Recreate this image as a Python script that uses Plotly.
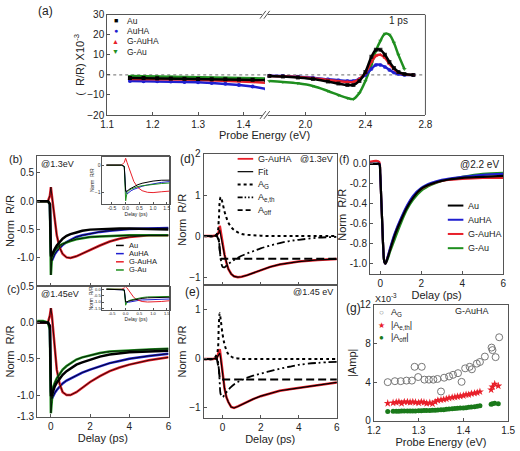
import plotly.graph_objects as go

W, H = 520, 451
FONT = "Liberation Sans, Arial, sans-serif"

# ---------------- (a) spectra at 1 ps ----------------
e_nir = [1.15, 1.18, 1.21, 1.24, 1.27, 1.30, 1.33, 1.36, 1.39, 1.42, 1.45]
a_au_nir = [-1.5, -1.6, -1.7, -1.8, -1.9, -2.0, -2.1, -2.2, -2.3, -2.4, -2.6]
a_auha_nir = [-3.0, -3.1, -3.2, -3.3, -3.5, -3.7, -4.0, -4.4, -5.0, -5.8, -7.0]
a_gauha_nir = [-2.0, -2.0, -2.1, -2.2, -2.3, -2.4, -2.6, -2.8, -3.1, -3.5, -4.0]
a_gau_nir = [-0.5, -0.6, -0.8, -0.9, -1.0, -1.2, -1.3, -1.4, -1.5, -1.6, -1.8]

e_vis = [1.76, 1.85, 1.95, 2.05, 2.15, 2.22, 2.28, 2.32, 2.36, 2.40, 2.44, 2.47, 2.50,
         2.53, 2.56, 2.59, 2.62, 2.66, 2.72]
a_au_vis = [-0.5, -0.8, -1.3, -2.0, -3.3, -4.3, -5.0, -5.0, -3.0, 1.5, 9.0, 12.5, 12.5,
            10.0, 6.5, 3.5, 1.5, 0.5, 0.0]
a_auha_vis = [-0.4, -0.6, -0.9, -1.4, -2.2, -2.7, -3.0, -3.0, -2.0, 0.0, 3.0, 5.0, 5.0,
              4.0, 2.5, 1.2, 0.4, 0.0, 0.0]
a_gauha_vis = [-0.5, -0.7, -1.1, -1.6, -2.5, -3.1, -3.5, -3.5, -2.0, 1.0, 6.5, 9.5, 10.0,
               8.5, 5.5, 3.0, 1.2, 0.3, 0.0]
e_vis_gau = [1.76, 1.85, 1.95, 2.05, 2.15, 2.22, 2.28, 2.32, 2.36, 2.40, 2.44, 2.47, 2.50,
             2.53, 2.56, 2.59, 2.62, 2.66]
a_gau_vis = [-3.0, -3.5, -4.2, -5.5, -8.0, -10.0, -11.5, -12.0, -9.0, -3.0, 5.0, 12.0, 17.0,
             20.5, 20.0, 16.0, 10.0, 3.0]

# ---------------- (b) / (c) kinetics ----------------
t_bc = [-0.7, -0.4, -0.15, -0.05, 0.0, 0.05, 0.1, 0.2, 0.3, 0.45, 0.6, 0.8, 1.0, 1.3, 1.6,
        2.0, 2.5, 3.0, 3.5, 4.0, 5.0, 6.0]
b_au = [0.0, 0.0, 0.0, -0.05, -0.95, -0.95, -0.9, -0.84, -0.78, -0.71, -0.66, -0.61, -0.58,
        -0.55, -0.52, -0.5, -0.49, -0.48, -0.48, -0.48, -0.49, -0.5]
b_auha = [0.0, 0.0, 0.0, -0.05, -0.9, -1.05, -1.0, -0.93, -0.88, -0.82, -0.77, -0.72, -0.68,
          -0.63, -0.6, -0.57, -0.54, -0.52, -0.5, -0.49, -0.48, -0.47]
b_gauha = [0.0, 0.0, 0.0, 0.1, 0.25, 0.1, -0.05, -0.35, -0.6, -0.82, -0.93, -0.99, -1.0,
           -0.97, -0.92, -0.86, -0.78, -0.71, -0.66, -0.63, -0.6, -0.6]
b_gau = [0.0, 0.0, 0.0, -0.05, -1.3, -1.0, -0.93, -0.87, -0.83, -0.78, -0.75, -0.72, -0.7,
         -0.67, -0.65, -0.63, -0.62, -0.61, -0.6, -0.6, -0.6, -0.6]

c_au = [0.0, 0.0, 0.0, -0.05, -1.0, -1.0, -0.95, -0.88, -0.83, -0.77, -0.72, -0.67, -0.63,
        -0.58, -0.55, -0.51, -0.47, -0.44, -0.42, -0.41, -0.4, -0.39]
c_auha = [0.0, 0.0, 0.0, -0.05, -0.95, -1.05, -1.02, -0.97, -0.93, -0.88, -0.84, -0.8, -0.77,
          -0.73, -0.69, -0.65, -0.6, -0.56, -0.53, -0.5, -0.46, -0.43]
c_gauha = [0.0, 0.0, 0.0, 0.1, 0.2, 0.1, -0.05, -0.4, -0.65, -0.85, -0.96, -1.0, -1.0,
           -0.96, -0.9, -0.82, -0.74, -0.67, -0.62, -0.58, -0.52, -0.48]
c_gau = [0.02, 0.02, 0.0, -0.1, -1.25, -1.0, -0.9, -0.83, -0.77, -0.71, -0.65, -0.6, -0.56,
         -0.51, -0.48, -0.45, -0.42, -0.4, -0.39, -0.38, -0.37, -0.36]

# ---------------- (d) / (e) fit components, G-AuHA ----------------
t_de = [-1.0, -0.5, -0.3, -0.2, -0.15, -0.1, 0.0, 0.1, 0.2, 0.3, 0.45, 0.6, 0.8, 1.0, 1.3,
        1.6, 2.0, 2.5, 3.0, 3.5, 4.0, 5.0, 6.0]
d_data = [0.0, 0.0, 0.02, 0.1, 0.25, 0.1, -0.2, -0.45, -0.65, -0.8, -0.92, -0.98, -1.0,
          -0.99, -0.95, -0.9, -0.83, -0.75, -0.69, -0.65, -0.62, -0.58, -0.56]
d_fit = [0.0, 0.0, 0.02, 0.08, 0.15, 0.05, -0.22, -0.46, -0.65, -0.8, -0.92, -0.98, -1.0,
         -0.99, -0.95, -0.9, -0.83, -0.75, -0.69, -0.65, -0.62, -0.58, -0.56]
d_ag = [0.0, 0.0, 0.05, 0.4, 0.85, 0.95, 0.8, 0.6, 0.45, 0.33, 0.22, 0.15, 0.09, 0.05, 0.03,
        0.02, 0.01, 0.0, 0.0, 0.0, 0.0, 0.0, 0.0]
d_aeth = [0.0, 0.0, 0.0, -0.1, -0.35, -0.55, -0.75, -0.76, -0.72, -0.68, -0.63, -0.58, -0.53,
          -0.48, -0.42, -0.37, -0.3, -0.23, -0.17, -0.12, -0.09, -0.04, -0.02]
d_aoff = [0.0, 0.0, 0.0, -0.1, -0.45, -0.55, -0.55, -0.55, -0.55, -0.55, -0.55, -0.55, -0.55,
          -0.55, -0.55, -0.55, -0.55, -0.55, -0.55, -0.55, -0.55, -0.55, -0.55]

e_data = [0.0, 0.0, 0.02, 0.15, 0.2, 0.05, -0.35, -0.6, -0.78, -0.88, -0.98, -1.0, -0.97,
          -0.93, -0.87, -0.82, -0.76, -0.7, -0.65, -0.62, -0.59, -0.53, -0.48]
e_fit = [0.0, 0.0, 0.02, 0.1, 0.12, 0.0, -0.36, -0.6, -0.78, -0.88, -0.98, -1.0, -0.97,
         -0.93, -0.87, -0.82, -0.76, -0.7, -0.65, -0.62, -0.59, -0.53, -0.48]
e_ag = [0.0, 0.0, 0.1, 0.7, 0.93, 0.8, 0.5, 0.3, 0.18, 0.1, 0.05, 0.02, 0.01, 0.0, 0.0, 0.0,
        0.0, 0.0, 0.0, 0.0, 0.0, 0.0, 0.0]
e_aeth = [0.0, 0.0, 0.0, -0.2, -0.5, -0.72, -0.78, -0.73, -0.68, -0.63, -0.57, -0.52, -0.47,
          -0.43, -0.38, -0.34, -0.3, -0.25, -0.2, -0.16, -0.12, -0.08, -0.06]
e_aoff = [0.0, 0.0, 0.0, -0.2, -0.4, -0.42, -0.42, -0.42, -0.42, -0.42, -0.42, -0.42, -0.42,
          -0.42, -0.42, -0.42, -0.42, -0.42, -0.42, -0.42, -0.42, -0.42, -0.42]

# ---------------- (f) kinetics @2.2 eV ----------------
t_f = [-0.5, -0.2, -0.05, 0.0, 0.05, 0.1, 0.15, 0.2, 0.25, 0.35, 0.5, 0.7, 1.0, 1.3, 1.6,
       2.0, 2.5, 3.0, 4.0, 5.0, 6.0]
f_au = [0.0, 0.0, 0.0, -0.1, -0.35, -0.6, -0.85, -0.98, -1.0, -0.95, -0.85, -0.72, -0.57,
        -0.44, -0.34, -0.25, -0.2, -0.17, -0.14, -0.13, -0.12]
f_auha = [0.0, 0.0, 0.0, -0.1, -0.35, -0.6, -0.85, -0.98, -1.0, -0.94, -0.83, -0.7, -0.55,
          -0.42, -0.32, -0.24, -0.19, -0.16, -0.13, -0.11, -0.1]
f_gauha = [0.02, 0.03, 0.02, -0.1, -0.35, -0.6, -0.85, -0.98, -1.0, -0.94, -0.84, -0.71,
           -0.56, -0.43, -0.33, -0.25, -0.2, -0.17, -0.15, -0.14, -0.14]
f_gau = [0.0, 0.0, 0.0, -0.1, -0.35, -0.6, -0.85, -0.98, -1.0, -0.96, -0.87, -0.76, -0.6,
         -0.46, -0.36, -0.27, -0.21, -0.17, -0.13, -0.1, -0.09]

# ---------------- (g) amplitudes vs probe energy ----------------
g_e_ag = [1.231, 1.247, 1.260, 1.273, 1.285, 1.291, 1.299, 1.307, 1.313, 1.323, 1.333, 1.342,
          1.350, 1.357, 1.368, 1.377, 1.388, 1.396, 1.404, 1.414, 1.419, 1.430, 1.437, 1.448,
          1.463, 1.465, 1.472, 1.480]
g_ag = [3.99, 4.09, 4.09, 4.15, 4.15, 5.58, 4.52, 5.58, 4.25, 4.25, 4.25, 4.32, 3.02, 4.45,
        4.58, 4.75, 4.92, 4.02, 5.42, 5.58, 5.32, 5.91, 6.08, 6.64, 7.57, 7.31, 6.58, 8.64]
g_e_amp = [1.231, 1.243, 1.250, 1.256, 1.262, 1.268, 1.275, 1.281, 1.287, 1.293, 1.300,
           1.306, 1.312, 1.318, 1.325, 1.331, 1.337, 1.343, 1.350, 1.356, 1.362, 1.368,
           1.375, 1.381, 1.387, 1.393, 1.400, 1.406, 1.412, 1.418, 1.425, 1.431, 1.437,
           1.462, 1.465, 1.470, 1.478]
g_aeth = [1.8, 1.85, 1.9, 1.95, 1.8, 1.95, 1.95, 1.9, 1.95, 1.9, 1.85, 1.95, 1.9, 1.8, 1.85,
          1.75, 1.95, 2.1, 2.15, 2.2, 2.25, 2.35, 2.4, 2.45, 2.5, 2.55, 2.6, 2.7, 2.7, 2.8,
          2.85, 2.9, 3.0, 3.2, 3.5, 3.8, 3.6]
g_aoff = [0.95, 0.97, 0.98, 0.98, 0.99, 1.0, 1.0, 1.0, 1.0, 1.01, 1.02, 1.03, 1.04, 1.05,
          1.06, 1.07, 1.08, 1.1, 1.12, 1.14, 1.17, 1.2, 1.23, 1.26, 1.28, 1.3, 1.32, 1.35,
          1.38, 1.42, 1.45, 1.5, 1.55, 1.7, 1.75, 1.8, 1.75]

samples = ["Au", "AuHA", "G-AuHA", "G-Au"]
colors = {"Au": "#000000", "AuHA": "#1f1fd0", "G-AuHA": "#e8202a", "G-Au": "#1f8f1f"}
GRAY = "#777777"
STAR = "#e8202a"
DKGREEN = "#1a7a1a"


def px_x(p):
    return p / W


def px_y(p):
    return 1 - p / H


fig = go.Figure()

# (a) spectra, two halves of the broken axis
nir = {"Au": a_au_nir, "AuHA": a_auha_nir, "G-AuHA": a_gauha_nir, "G-Au": a_gau_nir}
vis = {"Au": (e_vis, a_au_vis), "AuHA": (e_vis, a_auha_vis),
       "G-AuHA": (e_vis, a_gauha_vis), "G-Au": (e_vis_gau, a_gau_vis)}
symbols = {"Au": "square", "AuHA": "circle", "G-AuHA": "triangle-up", "G-Au": "triangle-down"}
for s in ["G-Au", "AuHA", "G-AuHA", "Au"]:
    fig.add_trace(go.Scatter(x=e_nir, y=nir[s], xaxis="x", yaxis="y", mode="lines+markers",
                             line=dict(color=colors[s], width=2.5),
                             marker=dict(symbol=symbols[s], size=4, color=colors[s]),
                             showlegend=False))
    fig.add_trace(go.Scatter(x=vis[s][0], y=vis[s][1], xaxis="x2", yaxis="y",
                             mode="lines+markers", line=dict(color=colors[s], width=2.5),
                             marker=dict(symbol=symbols[s], size=4, color=colors[s],
                                         opacity=0.8),
                             line_shape="spline", showlegend=False))

# (b) and (c) with insets
panel_bc = [
    ({"Au": b_au, "AuHA": b_auha, "G-AuHA": b_gauha, "G-Au": b_gau}, "x3", "y3", "x4", "y4"),
    ({"Au": c_au, "AuHA": c_auha, "G-AuHA": c_gauha, "G-Au": c_gau}, "x5", "y5", "x6", "y6"),
]
for data, xa, ya, xi, yi in panel_bc:
    for s in ["AuHA", "G-AuHA", "G-Au", "Au"]:
        fig.add_trace(go.Scatter(x=t_bc, y=data[s], xaxis=xa, yaxis=ya, mode="lines",
                                 line=dict(color=colors[s], width=2.5), showlegend=False))
        fig.add_trace(go.Scatter(x=t_bc, y=data[s], xaxis=xi, yaxis=yi, mode="lines",
                                 line=dict(color=colors[s], width=1), showlegend=False))
    for s in ["AuHA", "G-AuHA", "G-Au"]:
        fig.add_trace(go.Scatter(x=t_bc, y=data[s], xaxis=xa, yaxis=ya, mode="lines",
                                 line=dict(color="#000000", width=0.8), showlegend=False))

# (d) and (e) components
DASH_AG = "dot"
DASH_AETH = "8px,3px,2px,3px,2px,3px"
DASH_AOFF = "8px,4px"
for dat, fit, ag, aeth, aoff, xa, ya in [
        (d_data, d_fit, d_ag, d_aeth, d_aoff, "x7", "y7"),
        (e_data, e_fit, e_ag, e_aeth, e_aoff, "x8", "y8")]:
    fig.add_trace(go.Scatter(x=t_de, y=dat, xaxis=xa, yaxis=ya, mode="lines",
                             line=dict(color=colors["G-AuHA"], width=2.5), showlegend=False))
    fig.add_trace(go.Scatter(x=t_de, y=fit, xaxis=xa, yaxis=ya, mode="lines",
                             line=dict(color="#000000", width=1.2), showlegend=False))
    fig.add_trace(go.Scatter(x=t_de, y=ag, xaxis=xa, yaxis=ya, mode="lines", line_shape="spline",
                             line=dict(color="#000000", width=2, dash=DASH_AG), showlegend=False))
    fig.add_trace(go.Scatter(x=t_de, y=aeth, xaxis=xa, yaxis=ya, mode="lines", line_shape="spline",
                             line=dict(color="#000000", width=1.8, dash=DASH_AETH),
                             showlegend=False))
    fig.add_trace(go.Scatter(x=t_de, y=aoff, xaxis=xa, yaxis=ya, mode="lines",
                             line=dict(color="#000000", width=2, dash=DASH_AOFF),
                             showlegend=False))

# (f)
fdat = {"Au": f_au, "AuHA": f_auha, "G-AuHA": f_gauha, "G-Au": f_gau}
for s in ["G-Au", "G-AuHA", "AuHA", "Au"]:
    fig.add_trace(go.Scatter(x=t_f, y=fdat[s], xaxis="x9", yaxis="y9", mode="lines",
                             line_shape="spline", line=dict(color=colors[s], width=2.2),
                             showlegend=False))

# (g)
fig.add_trace(go.Scatter(x=g_e_ag, y=g_ag, xaxis="x10", yaxis="y10", mode="markers",
                         marker=dict(symbol="circle-open", size=7, color=GRAY,
                                     line=dict(width=1)), showlegend=False))
fig.add_trace(go.Scatter(x=g_e_amp, y=g_aeth, xaxis="x10", yaxis="y10", mode="markers",
                         marker=dict(symbol="star", size=6, color=STAR), showlegend=False))
fig.add_trace(go.Scatter(x=g_e_amp, y=g_aoff, xaxis="x10", yaxis="y10", mode="markers",
                         marker=dict(symbol="circle", size=5, color=DKGREEN), showlegend=False))

axis_common = dict(showline=True, linecolor="#555555", linewidth=1, ticks="inside",
                   ticklen=3, tickcolor="#555555", showgrid=False, zeroline=False,
                   tickfont=dict(size=10, color="#222222"), mirror=True)
tfont = dict(size=11, color="#222222")
norm_title = dict(text="Norm  R/R", font=tfont, standoff=0)
delay_title = dict(text="Delay (ps)", font=tfont, standoff=0)


def ax(**kw):
    d = dict(axis_common)
    d.update(kw)
    return d


inset_common = dict(showline=True, linecolor="#555555", linewidth=0.8, ticks="inside",
                    ticklen=2, tickcolor="#555555", showgrid=False, zeroline=False,
                    tickfont=dict(size=5, color="#333333"), mirror=True)


def iax(**kw):
    d = dict(inset_common)
    d.update(kw)
    return d


fig.update_layout(
    width=W, height=H, margin=dict(l=0, r=0, t=0, b=0),
    paper_bgcolor="white", plot_bgcolor="rgba(0,0,0,0)",
    font=dict(family=FONT, color="#222222"),
    # (a)
    xaxis=ax(domain=[px_x(103), px_x(265)], range=[1.1, 1.447], anchor="y",
             tickvals=[1.1, 1.2, 1.3, 1.4], ticktext=["1.1", "1.2", "1.3", "1.4"]),
    xaxis2=ax(domain=[px_x(265), px_x(430)], range=[1.73, 2.8], anchor="y",
              tickvals=[2.0, 2.4, 2.8], ticktext=["2.0", "2.4", "2.8"]),
    yaxis=ax(domain=[px_y(112), px_y(9)], range=[-20, 30], anchor="x", mirror=False,
             tickvals=[-20, -10, 0, 10, 20, 30],
             title=dict(text="(  R/R) X10<sup>-3</sup>", font=tfont, standoff=0)),
    # (b)
    xaxis3=ax(domain=[px_x(31), px_x(166)], range=[-0.7, 6], anchor="y3",
              tickvals=[0, 2, 4, 6], showticklabels=False),
    yaxis3=ax(domain=[px_y(288), px_y(154)], range=[-1.5, 0.8], anchor="x3",
              tickvals=[-1.0, -0.5, 0.0, 0.5], ticktext=["-1.0", "-0.5", "0.0", "0.5"],
              title=norm_title),
    xaxis4=iax(domain=[px_x(98), px_x(167)], range=[-0.85, 1.6], anchor="y4",
               tickvals=[-0.5, 0, 0.5, 1.0, 1.5], ticktext=["-0.5", "0.0", "0.5", "1.0", "1.5"],
               title=dict(text="Delay (ps)", font=dict(size=5), standoff=0)),
    yaxis4=iax(domain=[px_y(203), px_y(155)], range=[-1.4, 0.3], anchor="x4",
               tickvals=[-1, 0], title=dict(text="Norm  R/R", font=dict(size=5), standoff=0)),
    # (c)
    xaxis5=ax(domain=[px_x(31), px_x(166)], range=[-0.7, 6], anchor="y5",
              tickvals=[0, 2, 4, 6], title=delay_title),
    yaxis5=ax(domain=[px_y(422), px_y(288)], range=[-1.3, 0.5], anchor="x5",
              tickvals=[-1.3, -1.0, -0.5, 0.0, 0.5],
              ticktext=["-1.3", "-1.0", "-0.5", "0.0", "0.5"], title=norm_title),
    xaxis6=iax(domain=[px_x(98), px_x(167)], range=[-0.85, 1.6], anchor="y6",
               tickvals=[-0.5, 0, 0.5, 1.0, 1.5], ticktext=["-0.5", "0.0", "0.5", "1.0", "1.5"],
               tickfont=dict(size=4), title=dict(text="Delay (ps)", font=dict(size=5), standoff=0)),
    yaxis6=iax(domain=[px_y(312), px_y(289)], range=[-1.6, 0.15], anchor="x6",
               tickvals=[-1.5, -1.0, -0.5, 0.0], ticktext=["-1.5", "-1.0", "-0.5", "0.0"],
               tickfont=dict(size=4), title=dict(text="Norm  R/R", font=dict(size=5), standoff=0)),
    # (d)
    xaxis7=ax(domain=[px_x(202), px_x(339)], range=[-1, 6], anchor="y7",
              tickvals=[0, 2, 4, 6], showticklabels=False),
    yaxis7=ax(domain=[px_y(287), px_y(152)], range=[-1.2, 2], anchor="x7",
              tickvals=[-1, 0, 1, 2], title=norm_title),
    # (e)
    xaxis8=ax(domain=[px_x(202), px_x(339)], range=[-1, 6], anchor="y8",
              tickvals=[0, 2, 4, 6], title=delay_title),
    yaxis8=ax(domain=[px_y(423), px_y(287)], range=[-1.2, 1.5], anchor="x8",
              tickvals=[-1, 0, 1], title=norm_title),
    # (f)
    xaxis9=ax(domain=[px_x(373), px_x(510)], range=[-0.5, 6], anchor="y9",
              tickvals=[0, 2, 4, 6], title=delay_title),
    yaxis9=ax(domain=[px_y(275), px_y(154)], range=[-1.1, 0.08], anchor="x9",
              tickvals=[-1.0, -0.8, -0.6, -0.4, -0.2, 0.0],
              ticktext=["-1.0", "-0.8", "-0.6", "-0.4", "-0.2", "0.0"], title=norm_title),
    # (g)
    xaxis10=ax(domain=[px_x(377), px_x(515)], range=[1.2, 1.5], anchor="y10",
               tickvals=[1.2, 1.3, 1.4, 1.5], ticktext=["1.2", "1.3", "1.4", "1.5"],
               title=dict(text="Probe Energy (eV)", font=tfont, standoff=0)),
    yaxis10=ax(domain=[px_y(426), px_y(307)], range=[0, 12], anchor="x10",
               tickvals=[0, 4, 8, 12], title=dict(text="|Amp|", font=tfont, standoff=0)),
)

# frame pieces and break marks for (a)
shapes = [
    dict(type="line", xref="paper", yref="paper", x0=px_x(430), x1=px_x(430),
         y0=px_y(112), y1=px_y(9), line=dict(color="#555555", width=1)),
    dict(type="line", xref="paper", yref="y", x0=px_x(103), x1=px_x(430), y0=0, y1=0,
         line=dict(color="#888888", width=1.2, dash="dot"), layer="below"),
]
for yb in (9, 112):
    shapes.append(dict(type="rect", xref="paper", yref="paper", x0=px_x(262), x1=px_x(268),
                       y0=px_y(yb + 2), y1=px_y(yb - 2), fillcolor="white",
                       line=dict(width=0)))
    for dx in (-2, 2):
        shapes.append(dict(type="line", xref="paper", yref="paper",
                           x0=px_x(262 + dx), x1=px_x(268 + dx),
                           y0=px_y(yb + 4), y1=px_y(yb - 4),
                           line=dict(color="#555555", width=1)))


def note(text, x, y, size=10, xanchor="left", yanchor="middle", color="#222222"):
    fig.add_annotation(text=text, x=px_x(x), y=px_y(y), xref="paper", yref="paper",
                       showarrow=False, xanchor=xanchor, yanchor=yanchor,
                       font=dict(size=size, family=FONT, color=color))


def key_line(x0, x1, y, color, width=2, dash="solid"):
    shapes.append(dict(type="line", xref="paper", yref="paper", x0=px_x(x0), x1=px_x(x1),
                       y0=px_y(y), y1=px_y(y), line=dict(color=color, width=width, dash=dash)))


# (a) x title and labels
note("Probe Energy (eV)", 265, 133, size=11, xanchor="center")
note("(a)", 30, 5, size=12)
note("1 ps", 391, 15, size=10)
a_keys = {"Au": "■", "AuHA": "●", "G-AuHA": "▲", "G-Au": "▼"}
for i, s in enumerate(samples):
    yy = 15 + 10.6 * i
    note(a_keys[s], 112, yy, size=7, xanchor="center", color=colors[s])
    note(s, 121, yy, size=8.5)

# (b), (c)
note("(b)", 0, 157, size=11)
note("@1.3eV", 33, 162, size=9)
for i, s in enumerate(samples):
    yy = 246 + 8.4 * i
    key_line(112, 120, yy, colors[s], 1.5)
    note(s, 123, yy, size=7.5)
note("(c)", -2, 291, size=11)
note("@1.45eV", 33, 296, size=9)

# (d), (e)
note("(d)", 176, 157, size=12)
note("@1.3eV", 337, 157, size=9, xanchor="right")
d_keys = [("G-AuHA", colors["G-AuHA"], "solid", 1.8),
          ("Fit", "#000000", "solid", 1.2),
          ("A<sub>G</sub>", "#000000", DASH_AG, 1.8),
          ("A<sub>e,th</sub>", "#000000", "5px,2px,1.5px,2px,1.5px,2px", 1.6),
          ("A<sub>off</sub>", "#000000", "5px,3px", 1.8)]
for i, (lab, col, dash, wd) in enumerate(d_keys):
    yy = 157 + 13.2 * i
    key_line(237, 253, yy, col, wd, dash)
    note(lab, 256, yy, size=9)
note("(e)", 181, 294, size=12)
note("@1.45 eV", 337, 294, size=9, xanchor="right")

# (f), (g)
note("(f)", 339, 157, size=11)
note("@2.2 eV", 508, 163, size=10, xanchor="right")
for i, s in enumerate(samples):
    yy = 205 + 14.6 * i
    key_line(453, 469, yy, colors[s], 2)
    note(s, 472, yy, size=9)
note("(g)", 346, 310, size=12)
note("X10<sup>-3</sup>", 376, 300, size=9)
note("G-AuHA", 458, 313, size=9)
g_keys = [("○", GRAY, "A<sub>G</sub>"), ("★", STAR, "|A<sub>e,th</sub>|"),
          ("●", DKGREEN, "|A<sub>off</sub>|")]
for i, (g, col, lab) in enumerate(g_keys):
    yy = 315 + 13 * i
    note(g, 385, yy, size=8, xanchor="center", color=col)
    note(lab, 393, yy, size=9)

fig.update_layout(shapes=shapes)

fig.write_html("out.html", config={"displayModeBar": False},
               post_script="document.body.style.margin='0';")
